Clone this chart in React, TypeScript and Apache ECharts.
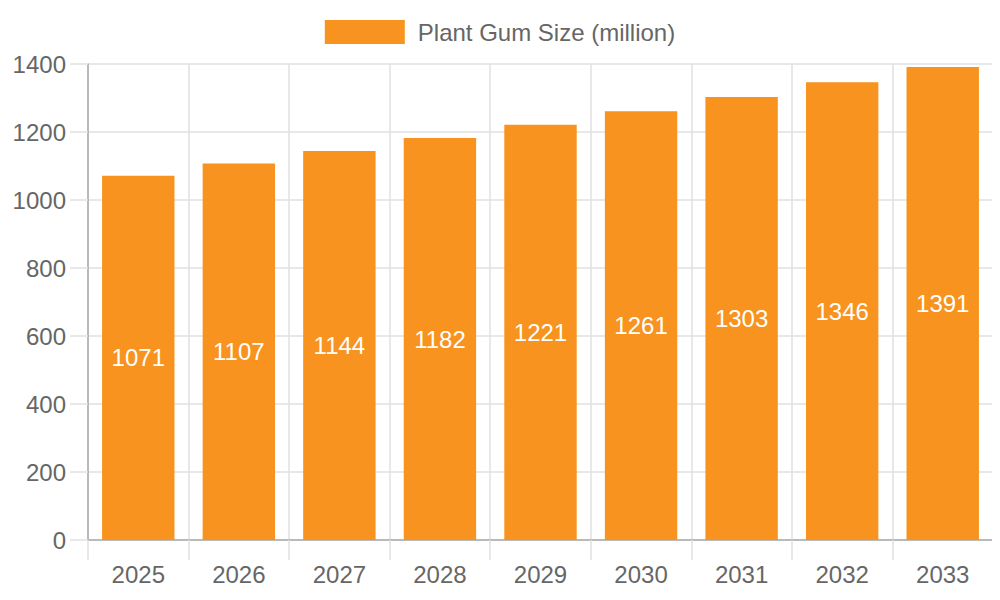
import React, { useEffect, useRef } from "react";
import * as echarts from "echarts";

const categories = ["2025", "2026", "2027", "2028", "2029", "2030", "2031", "2032", "2033"];
const values = [1071, 1107, 1144, 1182, 1221, 1261, 1303, 1346, 1391];
const seriesName = "Plant Gum Size (million)";

const FONT = "'Liberation Sans', Arial, sans-serif";

export default function App() {
  const ref = useRef<HTMLDivElement>(null);
  useEffect(() => {
    if (!ref.current) return;
    const chart = echarts.init(ref.current, null, { renderer: "svg" });
    chart.setOption({
      animation: false,
      textStyle: { fontFamily: FONT },
      legend: {
        top: 15,
        left: "center",
        itemWidth: 80,
        itemHeight: 24,
        itemGap: 10,
        icon: "rect",
        textStyle: { fontSize: 24, color: "#666", fontFamily: FONT, padding: [0, 0, 0, 8] },
        data: [seriesName],
      },
      grid: { left: 88, right: 7, top: 64, bottom: 60, containLabel: false },
      xAxis: {
        type: "category",
        data: categories,
        boundaryGap: true,
        axisLine: { show: true, lineStyle: { color: "#aaaaaa", width: 1.5 } },
        axisTick: { show: true, length: 20, lineStyle: { color: "#e0e0e0", width: 1.5 } },
        axisLabel: { color: "#666", fontSize: 24, margin: 22, fontFamily: FONT },
        splitLine: { show: true, lineStyle: { color: "#e0e0e0", width: 1.5 } },
      },
      yAxis: {
        type: "value",
        min: 0,
        max: 1400,
        interval: 200,
        axisLine: { show: true, lineStyle: { color: "#aaaaaa", width: 1.5 } },
        axisTick: { show: true, length: 18, lineStyle: { color: "#e0e0e0", width: 1.5 } },
        axisLabel: {
          color: "#666",
          fontSize: 24,
          margin: 22,
          fontFamily: FONT,
          formatter: (v: number) => String(v),
        },
        splitLine: { show: true, lineStyle: { color: "#e0e0e0", width: 1.5 } },
      },
      series: [
        {
          name: seriesName,
          type: "bar",
          data: values,
          barCategoryGap: "28%",
          itemStyle: { color: "#F7931E" },
          label: {
            show: true,
            position: "inside",
            color: "#ffffff",
            fontSize: 24,
            fontFamily: FONT,
          },
        },
      ],
    });
    return () => chart.dispose();
  }, []);
  return <div ref={ref} style={{ width: 1000, height: 600, margin: -8 }} />;
}
